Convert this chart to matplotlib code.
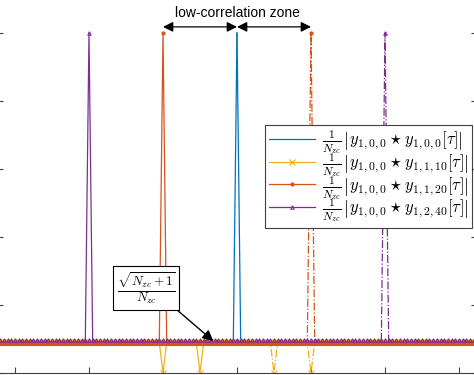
import numpy as np
import matplotlib
matplotlib.use("Agg")
import matplotlib.pyplot as plt

plt.rcParams['font.family'] = ['Liberation Sans', 'DejaVu Sans']
plt.rcParams['mathtext.fontset'] = 'cm'

# data
lags = np.arange(-64, 65)
floor_level = 0.09          # sqrt(Nzc+1)/Nzc level
peak_level = 1.0
blue_peaks = [0]
orange_peaks = [-20, 20]
purple_peaks = [-40, 40]
yellow_zeros = [-20, -10, 10, 20]

labels = [
    r'$\frac{1}{N_{zc}}\,\left|y_{1,0,0}\star y_{1,0,0}[\tau]\right|$',
    r'$\frac{1}{N_{zc}}\,\left|y_{1,0,0}\star y_{1,1,10}[\tau]\right|$',
    r'$\frac{1}{N_{zc}}\,\left|y_{1,0,0}\star y_{1,1,20}[\tau]\right|$',
    r'$\frac{1}{N_{zc}}\,\left|y_{1,0,0}\star y_{1,2,40}[\tau]\right|$',
]
colors = ['#0072BD', '#EDB120', '#D95319', '#7E2F8E']
markers = ['', 'x', '.', '^']
msizes = [0, 4, 4.5, 2.5]


def build(peaks, value):
    y = np.full(len(lags), floor_level)
    for p in peaks:
        y[lags == p] = value
    return y


series = [
    build(blue_peaks, peak_level),
    build(yellow_zeros, 0.0),
    build(orange_peaks, peak_level),
    build(purple_peaks, peak_level),
]

fig = plt.figure(figsize=(4.74, 3.75), dpi=100)
ax = fig.add_axes([-3 / 474, 2 / 375, 480 / 474, 1.12 * 340 / 375])

zorders = [2.0, 2.1, 2.3, 2.2]
handles = []
for i, y in enumerate(series):
    neg = lags <= 0
    pos = lags >= 0
    mfc = 'none' if markers[i] == '^' else colors[i]
    h, = ax.plot(lags[neg], y[neg], color=colors[i], lw=0.9, marker=markers[i],
                 ms=msizes[i], mfc=mfc, mew=0.8, label=labels[i], zorder=zorders[i])
    ls = '-' if i == 0 else '-.'
    ax.plot(lags[pos], y[pos], color=colors[i], lw=0.9, ls=ls, marker=markers[i],
            ms=msizes[i], mfc=mfc, mew=0.8, zorder=zorders[i])
    handles.append(h)

# thicker floor band (overlapping floors) and purple triangles poking out above it
floor = np.full(len(lags), floor_level)
ax.plot(lags, floor - 0.004, color=colors[2], lw=3.0, zorder=2.25)
ax.plot(lags, floor + 0.008, ls='none', marker='^', ms=2.5, color=colors[3],
        mfc='none', mew=0.8, zorder=2.4)

ax.set_xlim(-64.86, 64.86)
ax.set_ylim(0, 1.12)
ax.set_xticks(np.arange(-60, 61, 20))
ax.set_yticks(np.arange(0, 1.01, 0.2))
ax.tick_params(direction='in', length=4, width=0.8, color='#404040',
               top=True, right=True, labelbottom=False, labelleft=False)
for s in ax.spines.values():
    s.set_color('#404040')
    s.set_linewidth(0.8)

# low-correlation zone arrows
for a, b in [(-20, 0), (0, 20)]:
    ax.annotate('', xy=(a, 1.018), xytext=(b, 1.018),
                arrowprops=dict(arrowstyle='<|-|>', color='black', lw=0.9,
                                mutation_scale=15, shrinkA=0, shrinkB=0))
ax.text(0, 1.058, 'low-correlation zone', ha='center', va='center', fontsize=10)

# floor annotation
ax.annotate(r'$\frac{\sqrt{N_{zc}+1}}{N_{zc}}$', xy=(-6.4, 0.094), xytext=(-24.6, 0.25),
            ha='center', va='center', fontsize=13.5,
            bbox=dict(boxstyle='square,pad=0.2', fc='white', ec='black', lw=0.8),
            arrowprops=dict(arrowstyle='-|>', color='black', lw=1.0, relpos=(0.95, 0),
                            mutation_scale=16, shrinkA=0, shrinkB=0))

leg = ax.legend(handles=handles, loc='upper right', bbox_to_anchor=(472 / 474, 1 - 125 / 375),
                bbox_transform=fig.transFigure, fontsize=12, frameon=True, fancybox=False,
                edgecolor='#404040', framealpha=1, borderaxespad=0, handlelength=2.8,
                labelspacing=-0.32, borderpad=0.2, handletextpad=0.4)
leg.get_frame().set_linewidth(0.8)

fig.savefig('out.png', dpi=100)
